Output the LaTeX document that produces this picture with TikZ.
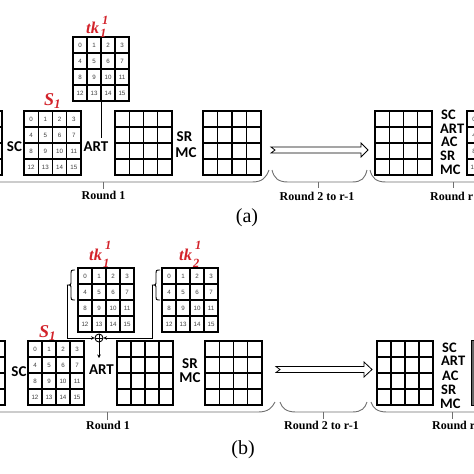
\documentclass[tikz,border=0pt]{standalone}
\usepackage{fontspec}
\setmainfont{Liberation Serif}
\newfontfamily\lblfont{Carlito}
\newfontfamily\numfont{Liberation Sans}
\usetikzlibrary{calc,arrows.meta}
\definecolor{tkred}{HTML}{D3232B}
\definecolor{bracegray}{HTML}{707070}
% #1 name, #2 x, #3 y, #4 width, #5 numbers (1/0)
\newcommand\stgrid[5]{%
  \node[gridbox, minimum width=#4pt, anchor=north west] (#1) at (#2,#3) {};
  \foreach \k in {1,2,3}{%
    \draw[gridln] ($(#1.north west)!\k/4!(#1.north east)$) -- ($(#1.south west)!\k/4!(#1.south east)$);
    \draw[gridln] ($(#1.north west)!\k/4!(#1.south west)$) -- ($(#1.north east)!\k/4!(#1.south east)$);
  }%
  \ifnum#5=1
    \foreach \r in {0,...,3}{\foreach \c in {0,...,3}{%
      \pgfmathtruncatemacro\nn{4*\r+\c}%
      \node[num] at ($(#1.north west)+({(\c+0.5)*#4/4},{(\r+0.5)*16})$) {\nn};
    }}%
  \fi
}
% #1 name, #2 x, #3 baseline y, #4 subscript, #5 sup raise, #6 sub raise
\newcommand\tklabel[6]{%
  \node[redlbl, anchor=base west] (#1) at (#2,#3)
    {tk\kern1pt\rlap{\kern2pt\raisebox{#5}{\fontsize{12.5}{12.5}\selectfont 1}}\raisebox{#6}{\fontsize{12.5}{12.5}\selectfont #4}};
}
\begin{document}
\begin{tikzpicture}[x=1pt,y=-1pt,
  gridbox/.style={draw, line width=1.2pt, minimum height=64pt, inner sep=0pt, outer sep=0pt},
  gridln/.style={line width=1.2pt},
  num/.style={font=\numfont\fontsize{6.2}{6.2}\selectfont, text=black!75, inner sep=0pt},
  oplbl/.style={font=\lblfont\bfseries\fontsize{15}{15}\selectfont, inner sep=0pt},
  oprlbl/.style={font=\lblfont\bfseries\fontsize{14.5}{14.5}\selectfont, inner sep=0pt, anchor=west},
  redlbl/.style={text=tkred, font=\bfseries\itshape\fontsize{16.5}{16.5}\selectfont, inner sep=0pt},
  slbl/.style={text=tkred, font=\bfseries\itshape\fontsize{18}{18}\selectfont, inner sep=0pt},
  roundlbl/.style={font=\bfseries\fontsize{12}{12}\selectfont, inner sep=0pt},
  caplbl/.style={font=\fontsize{20}{20}\selectfont, inner sep=0pt},
  bracel/.style={draw=bracegray, line width=0.9pt},
  conn/.style={line width=0.9pt},
  tip/.style={-{Stealth[length=3.5pt,width=3.5pt]}},
  hollow/.style={draw, line width=0.8pt, fill=white}]
\useasboundingbox[fill=white] (0,0) rectangle (474,474);

%%%%%%%%%%%%%%%% panel (a)
\stgrid{la}{-55}{111}{57}{0}
\stgrid{s1a}{24}{111}{57}{1}
\stgrid{tka}{73}{37}{56}{1}
\stgrid{g2a}{115}{111}{57}{0}
\stgrid{g3a}{203}{111}{58}{0}
\stgrid{g4a}{375}{111}{57}{0}
\stgrid{ra}{467}{111}{57}{1}

\node[slbl, anchor=base west] (s1lbla) at (44,105) {S\raisebox{-3pt}{\fontsize{13}{13}\selectfont 1}};
\tklabel{tklbla}{86}{33}{1}{9pt}{-4pt}

\node[oplbl] (sca) at (14.5,147) {SC};
\node[oplbl] (arta) at (96,147) {ART};
\node[oplbl] (sra) at (184.5,137) {SR};
\node[oplbl] (mca) at (186,153) {MC};
\coordinate (artina) at (101,138);
\draw[conn] (tka.south) -- (tka.south |- artina);

\draw[hollow] (271,147) -- (361,147) -- (361,143) -- (368,150) -- (361,157) -- (361,153) -- (271,153) -- (275,150) -- cycle;

\node[oprlbl] (scra) at (441,115) {SC};
\node[oprlbl] (artra) at (440,129) {ART};
\node[oprlbl] (acra) at (441,142) {AC};
\node[oprlbl] (srra) at (440,155.5) {SR};
\node[oprlbl] (mcra) at (440,170) {MC};

\draw[bracel] (-2,182) -- (252,182) .. controls (262,182) and (266,178) .. (269,170);
\draw[bracel] (103,182) -- (103,189);
\draw[bracel] (272,170) .. controls (274,178) and (278,182) .. (288,182) -- (352,182) .. controls (362,182) and (365,178) .. (367,170);
\draw[bracel] (318,182) -- (318,188);
\draw[bracel] (370,170) .. controls (372,178) and (376,182) .. (386,182) -- (480,182);
\draw[bracel] (453,182) -- (453,188);
\node[roundlbl] (r1a) at (103.5,195.5) {Round 1};
\node[roundlbl] (r2a) at (317,196) {Round 2 to r-1};
\node[roundlbl, anchor=west] (rra) at (430,196) {Round r};
\node[caplbl] (capa) at (247,218) {(a)};

%%%%%%%%%%%%%%%% panel (b)
\stgrid{lb}{-52}{341}{57}{0}
\stgrid{s1b}{28}{341}{56}{1}
\stgrid{tk1b}{78}{268}{56}{1}
\stgrid{tk2b}{162}{268}{56}{1}
\stgrid{g2b}{117}{341}{56}{0}
\stgrid{g3b}{205}{341}{57}{0}
\stgrid{g4b}{377}{341}{56}{0}
\stgrid{rb}{472}{341}{57}{0}
\fill[black!60] (472,341) rectangle (474,405);

\node[slbl, anchor=base west] (s1lblb) at (39,337) {S\raisebox{-3pt}{\fontsize{13}{13}\selectfont 1}};
\tklabel{tk1lbl}{89}{260}{1}{11pt}{-7pt}
\tklabel{tk2lbl}{179}{260}{2}{11pt}{-7pt}

\node[oplbl] (scb) at (19,372) {SC};
\node[oplbl] (artb) at (101.5,370) {ART};
\node[oplbl] (srb) at (190,364) {SR};
\node[oplbl] (mcb) at (190,378) {MC};

% key braces and XOR
\draw[conn] (75,270) .. controls (71,270) .. (71,275) -- (71,281) .. controls (71,285) .. (67,285) .. controls (71,285) .. (71,289) -- (71,295) .. controls (71,300) .. (75,300);
\draw[conn] (160,270) .. controls (156,270) .. (156,275) -- (156,281) .. controls (156,285) .. (152,285) .. controls (156,285) .. (156,289) -- (156,295) .. controls (156,300) .. (160,300);
\coordinate (b1tip) at (67,285);
\coordinate (b2tip) at (152,285);
\node[circle, draw, line width=0.9pt, minimum size=8pt, inner sep=0pt] (xor) at (99,338) {};
\draw[line width=0.7pt] (xor.north) -- (xor.south) (xor.west) -- (xor.east);
\draw[conn, tip] (b1tip) |- (xor.west);
\draw[conn, tip] (b2tip) |- (xor.east);
\coordinate (artinb) at (99,358);
\draw[conn, tip] (xor.south) -- (artinb);

\draw[hollow] (276,366.5) -- (364,366.5) -- (364,362) -- (372,369.5) -- (364,377) -- (364,372.5) -- (276,372.5) -- (280,369.5) -- cycle;

\node[oprlbl] (scrb) at (442,348) {SC};
\node[oprlbl] (artrb) at (441,361) {ART};
\node[oprlbl] (acrb) at (442,375.5) {AC};
\node[oprlbl] (srrb) at (441,390) {SR};
\node[oprlbl] (mcrb) at (440,403.5) {MC};

\draw[bracel] (-2,412) -- (258,412) .. controls (268,412) and (272,408) .. (275,402);
\draw[bracel] (107,412) -- (107,420);
\draw[bracel] (280,402) .. controls (282,408) and (286,412) .. (296,412) -- (352,412) .. controls (362,412) and (365,408) .. (367,402);
\draw[bracel] (323,412) -- (323,419);
\draw[bracel] (371,402) .. controls (373,408) and (377,412) .. (387,412) -- (480,412);
\draw[bracel] (452,412) -- (452,419);
\node[roundlbl] (r1b) at (108,425.5) {Round 1};
\node[roundlbl] (r2b) at (321.5,425.5) {Round 2 to r-1};
\node[roundlbl, anchor=west] (rrb) at (432,425.5) {Round r};
\node[caplbl] (capb) at (243,450) {(b)};
\end{tikzpicture}
\end{document}
